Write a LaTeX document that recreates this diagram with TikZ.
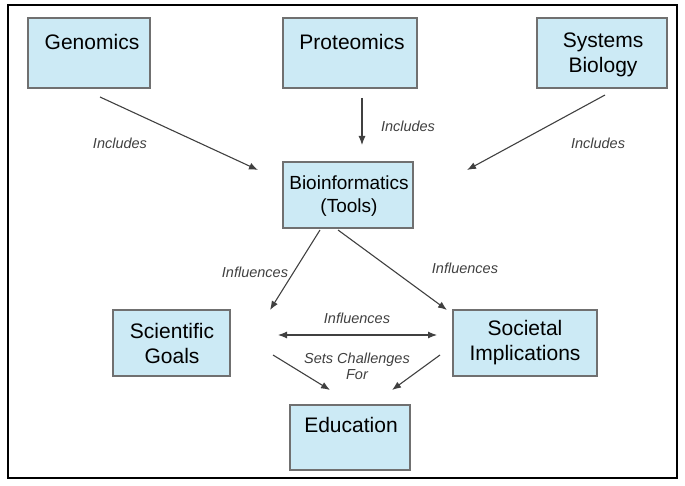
\documentclass[tikz,border=0pt]{standalone}
\usepackage{fontspec}
\setmainfont{Liberation Sans}
\usetikzlibrary{arrows.meta}
\definecolor{boxfill}{HTML}{CCEAF5}
\definecolor{boxline}{HTML}{707070}
\definecolor{arr}{HTML}{404040}
\begin{document}
\begin{tikzpicture}[x=1pt,y=-1pt,
  box/.style={draw=boxline,fill=boxfill,line width=1.2pt,inner sep=0pt},
  txt/.style={align=center,font=\fontsize{21}{25}\selectfont},
  lbl/.style={font=\itshape\fontsize{14.5}{16}\selectfont,text=black!75},
  con/.style={draw=arr,line width=1.1pt,-{Latex[length=9pt,width=7pt]}}]
\useasboundingbox (0,0) rectangle (685,486);
\draw[line width=1.5pt] (8,5) rectangle (677,478);
\draw[box] (28,18) rectangle (150,88);
\draw[box] (283,18) rectangle (417,88);
\draw[box] (537,18) rectangle (667,88);
\draw[box] (283,162) rectangle (413,228);
\draw[box] (113,310) rectangle (230,376);
\draw[box] (453,310) rectangle (597,376);
\draw[box] (290,405) rectangle (410,470);
\node[txt] (gen) at (92,42) {Genomics};
\node[txt] (pro) at (352,42) {Proteomics};
\node[txt] (sys) at (603,55) {Systems\\Biology};
\node[txt,font=\fontsize{19}{23}\selectfont] (bio) at (349,196) {Bioinformatics\\(Tools)};
\node[txt] (sci) at (172,343) {Scientific\\Goals};
\node[txt] (soc) at (525,343) {Societal\\Implications};
\node[txt] (edu) at (351,425) {Education};
\coordinate (g1) at (100,97); \coordinate (g2) at (258,170);
\coordinate (p1) at (362,98); \coordinate (p2) at (362,145);
\coordinate (s1) at (605,95); \coordinate (s2) at (467,170);
\coordinate (b1) at (320,230); \coordinate (b2) at (270,310);
\coordinate (b3) at (338,230); \coordinate (b4) at (447,310);
\coordinate (d1) at (278,335); \coordinate (d2) at (437,335);
\coordinate (e1) at (273,355); \coordinate (e2) at (330,390);
\coordinate (e3) at (440,355); \coordinate (e4) at (392,390);
\draw[con] (g1) -- (g2);
\draw[con] (p1) -- (p2);
\draw[con] (s1) -- (s2);
\draw[con] (b1) -- (b2);
\draw[con] (b3) -- (b4);
\draw[con,{Latex[length=9pt,width=7pt]}-{Latex[length=9pt,width=7pt]}] (d1) -- (d2);
\draw[con] (e1) -- (e2);
\draw[con] (e3) -- (e4);
\node[lbl] (l1) at (120,143) {Includes};
\node[lbl] (l2) at (408,126) {Includes};
\node[lbl] (l3) at (598,143) {Includes};
\node[lbl] (l4) at (255,272) {Influences};
\node[lbl] (l5) at (465,268) {Influences};
\node[lbl] (l6) at (357,318) {Influences};
\node[lbl,align=center] (l7) at (357,366) {Sets Challenges\\For};
\end{tikzpicture}
\end{document}
